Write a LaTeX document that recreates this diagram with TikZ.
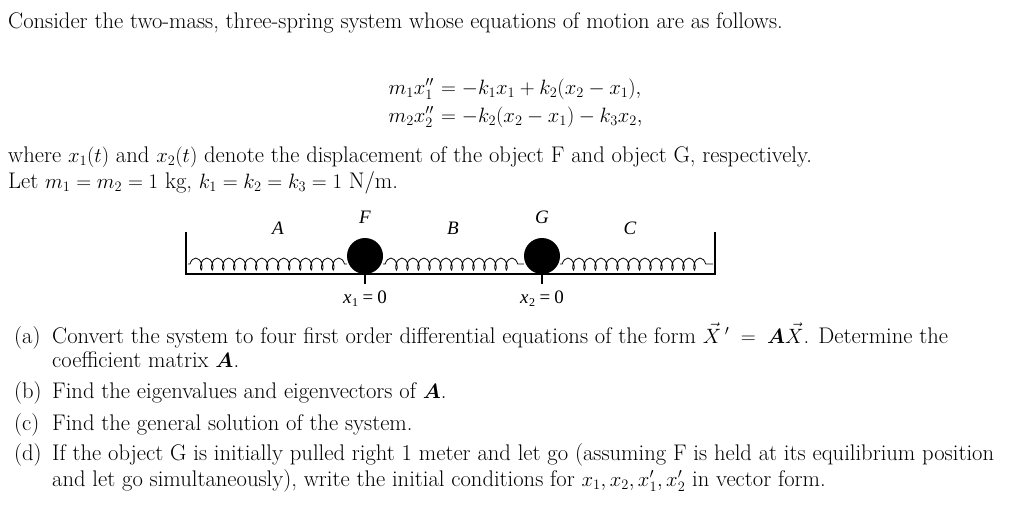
\documentclass[tikz,border=0pt]{standalone}
\usepackage{amsmath}
\usepackage{fontspec}
\newfontfamily\tms{Liberation Serif}
\usetikzlibrary{decorations.pathmorphing}
\begin{document}
\begin{tikzpicture}[x=1pt,y=-1pt,
  txt/.style={anchor=base west,inner sep=0pt,font=\fontsize{22.6}{26}\selectfont},
  lab/.style={inner sep=0pt,font=\tms\fontsize{19}{22}\selectfont},
  spr/.style={decorate,decoration={coil,aspect=0.5,segment length=11pt,amplitude=6pt,pre length=2pt,post length=2pt},line width=0.8pt},
  mass/.style={circle,fill=black,minimum size=36pt,inner sep=0pt}]
\useasboundingbox (0,0) rectangle (1024,506);
\node[txt] (t1) at (8,28) {Consider the two-mass, three-spring system whose equations of motion are as follows.};
\node[txt,anchor=base east] (e1l) at (434,94) {$m_1x_1''$};
\node[txt] (e1r) at (441,94) {$=-k_1x_1+k_2(x_2-x_1),$};
\node[txt,anchor=base east] (e2l) at (434,122) {$m_2x_2''$};
\node[txt] (e2r) at (441,122) {$=-k_2(x_2-x_1)-k_3x_2,$};
\node[txt] (t2) at (8,162) {where $x_1(t)$ and $x_2(t)$ denote the displacement of the object F and object G, respectively.};
\node[txt] (t3) at (8,188) {Let $m_1=m_2=1$ kg, $k_1=k_2=k_3=1$ N/m.};
% diagram
\coordinate (wl) at (186,232);
\coordinate (bl) at (186,274);
\coordinate (br) at (715,274);
\coordinate (wr) at (715,232);
\draw[line width=2pt] (wl) -- (bl) -- (br) -- (wr);
\node[mass] (F) at (365,256) {};
\node[mass] (G) at (542,256) {};
\coordinate (sl) at (188,264);
\coordinate (sr) at (713,264);
\draw[spr] (sl) -- (F.west|-sl);
\draw[spr] (F.east|-sl) -- (G.west|-sl);
\draw[spr] (G.east|-sl) -- (sr);
\coordinate (t1b) at (365,284);
\coordinate (t2b) at (542,284);
\draw[line width=1.5pt] (F.south) -- (t1b);
\draw[line width=1.5pt] (G.south) -- (t2b);
\node[lab] (A) at (278,228) {\itshape A};
\node[lab] (lF) at (365,217) {\itshape F};
\node[lab] (B) at (453,228) {\itshape B};
\node[lab] (lG) at (542,217) {\itshape G};
\node[lab] (C) at (630,228) {\itshape C};
\node[lab] (x1) at (365,299) {\itshape x\kern0.5pt\raisebox{-3pt}{\upshape\fontsize{12}{13}\selectfont 1}\,=\,\upshape 0};
\node[lab] (x2) at (542,299) {\itshape x\kern0.5pt\raisebox{-3pt}{\upshape\fontsize{12}{13}\selectfont 2}\,=\,\upshape 0};
% parts
\node[txt] (pa) at (14,343) {(a)};
\node[txt] (pa1) at (52,343) {Convert the system to four first order differential equations of the form $\vec{X}\,'\;=\;\boldsymbol{A}\vec{X}$. Determine the};
\node[txt] (pa2) at (52,367) {coefficient matrix $\boldsymbol{A}$.};
\node[txt] (pb) at (14,398) {(b)};
\node[txt] (pb1) at (52,398) {Find the eigenvalues and eigenvectors of $\boldsymbol{A}$.};
\node[txt] (pc) at (14,430) {(c)};
\node[txt] (pc1) at (52,430) {Find the general solution of the system.};
\node[txt] (pd) at (14,460) {(d)};
\node[txt] (pd1) at (52,460) {If the object G is initially pulled right 1 meter and let go (assuming F is held at its equilibrium position};
\node[txt] (pd2) at (52,486) {and let go simultaneously), write the initial conditions for $x_1,x_2,x_1',x_2'$ in vector form.};
\end{tikzpicture}
\end{document}
